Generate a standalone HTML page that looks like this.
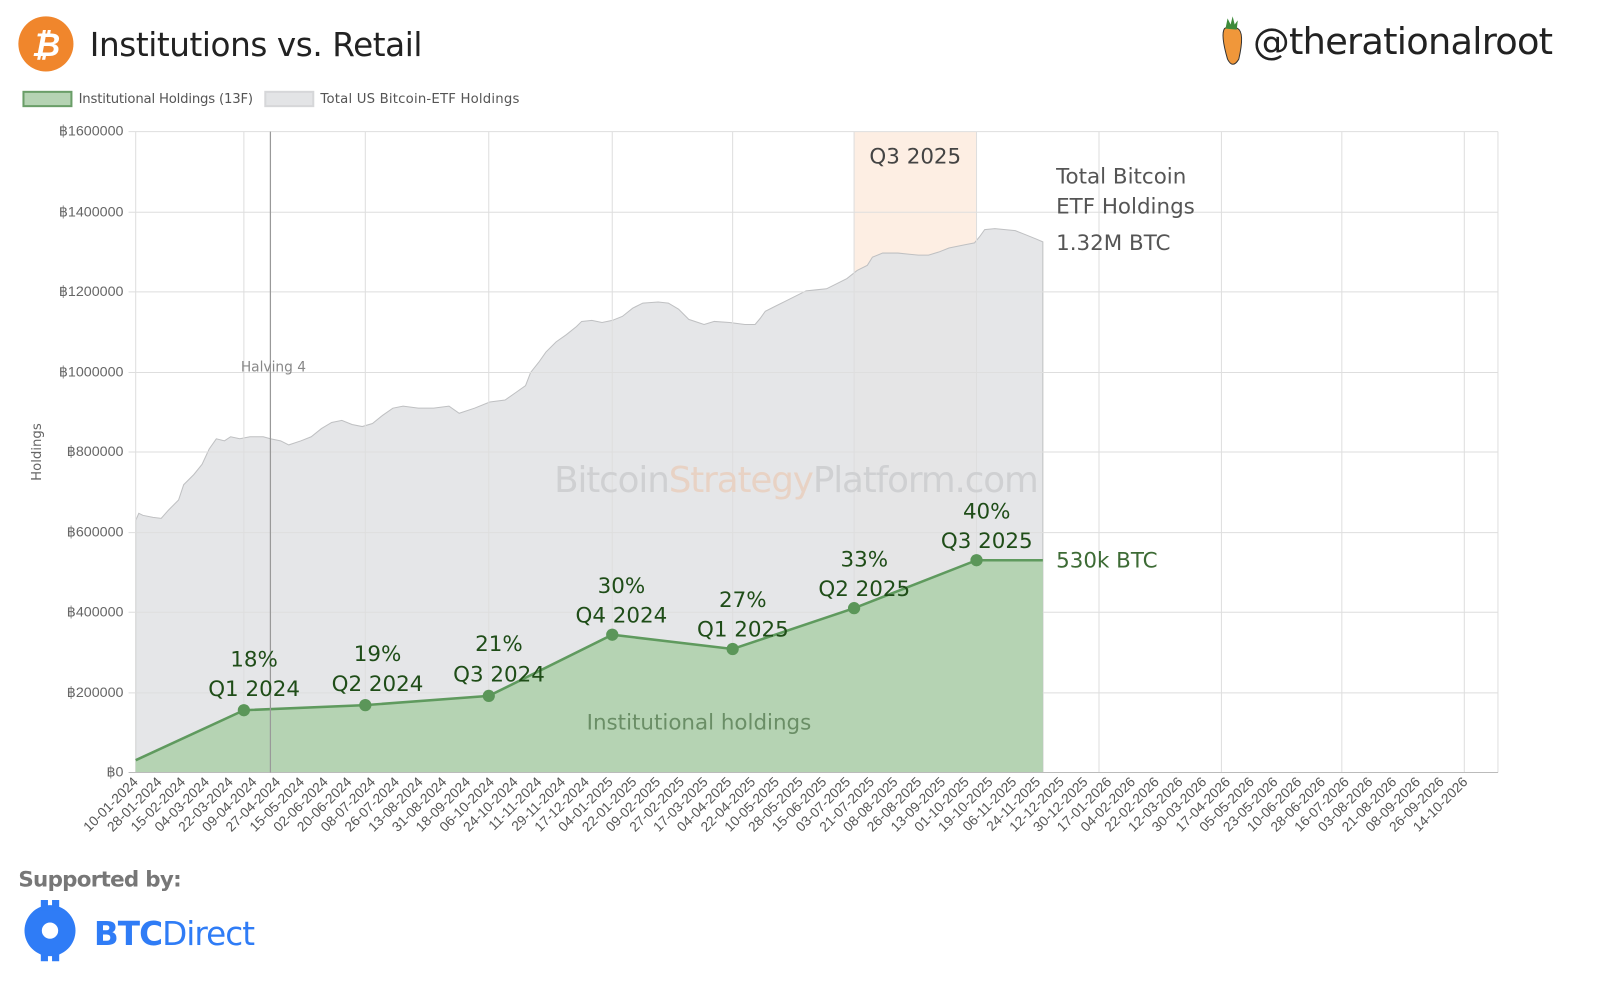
<!DOCTYPE html>
<html><head><meta charset="utf-8"><style>
html,body{margin:0;padding:0;background:#fff;}
svg{display:block;}
text{font-family:"DejaVu Sans","Liberation Sans",sans-serif;}
.yl{font-family:"Liberation Sans","DejaVu Sans",sans-serif;font-size:14px;fill:#666;text-anchor:end;}
.xl{font-family:"Liberation Sans",sans-serif;font-size:13.5px;fill:#555;text-anchor:end;}
.g{font-size:21px;fill:#1f4d18;text-anchor:middle;}
</style></head><body>
<svg width="1600" height="984" viewBox="0 0 1568 964.3" xmlns="http://www.w3.org/2000/svg">
<circle cx="45" cy="43" r="27" fill="#f0862c"/>
<text x="45" y="55" font-size="32" font-weight="bold" fill="#fff" text-anchor="middle" font-style="italic">₿</text>
<text x="88" y="55" font-size="32" fill="#222" textLength="326">Institutions vs. Retail</text>
<path d="M1200 28 Q1206 24 1213 28 Q1220 32 1214 58 Q1208 68 1203 58 Q1196 34 1200 28Z" fill="#f0973a" stroke="#333" stroke-width="1"/>
<path d="M1201 28 L1203 18 L1206 24 L1208 16 L1210 24 L1213 20 L1212 29Z" fill="#3d8a3a"/>
<text x="1228" y="53" font-size="36" fill="#222" textLength="294">@therationalroot</text>
<rect x="23" y="90" width="47" height="14" fill="#b5d3b3" stroke="#6a9e68" stroke-width="2"/>
<text x="77" y="101" font-family="Liberation Sans" font-size="13" fill="#555" textLength="171">Institutional Holdings (13F)</text>
<rect x="260" y="90" width="47" height="14" fill="#e3e4e6" stroke="#d6d7d9" stroke-width="2"/>
<text x="314" y="101" font-family="Liberation Sans" font-size="13" fill="#555" textLength="195">Total US Bitcoin-ETF Holdings</text>
<rect x="837" y="129" width="120" height="628" fill="#fdeee3"/>
<path d="M133 757 L133 510 L136 503 L140 505 L150 507 L158 508 L165 500 L175 490 L180 475 L190 465 L198 455 L205 440 L212 430 L220 432 L226 428 L235 430 L245 428 L258 428 L265 430 L275 432 L283 436 L295 432 L305 428 L315 420 L325 414 L335 412 L345 416 L355 418 L365 415 L375 407 L385 400 L395 398 L410 400 L425 400 L440 398 L450 405 L465 400 L480 394 L495 392 L505 385 L515 378 L520 365 L528 355 L535 345 L545 335 L555 328 L565 320 L570 315 L580 314 L590 316 L600 314 L610 310 L620 302 L630 297 L645 296 L655 297 L665 303 L675 313 L690 318 L700 315 L715 316 L730 318 L740 318 L745 312 L750 305 L760 300 L770 295 L780 290 L790 285 L800 284 L810 283 L820 278 L830 273 L840 265 L850 260 L855 252 L865 248 L880 248 L890 249 L900 250 L910 250 L920 247 L930 243 L945 240 L955 238 L960 232 L965 225 L975 224 L985 225 L995 226 L1005 230 L1015 234 L1022 237 L1022 757Z" fill="#e3e4e6" fill-opacity="0.93" stroke="#bfc0c2" stroke-width="1"/>
<g stroke="#dedede" stroke-width="1">
<line x1="126" y1="129" x2="1468" y2="129"/><line x1="126" y1="208" x2="1468" y2="208"/><line x1="126" y1="286" x2="1468" y2="286"/><line x1="126" y1="365" x2="1468" y2="365"/><line x1="126" y1="443" x2="1468" y2="443"/><line x1="126" y1="522" x2="1468" y2="522"/><line x1="126" y1="600" x2="1468" y2="600"/><line x1="126" y1="679" x2="1468" y2="679"/>
<line x1="133" y1="129" x2="133" y2="757"/><line x1="239" y1="129" x2="239" y2="757"/><line x1="358" y1="129" x2="358" y2="757"/><line x1="479" y1="129" x2="479" y2="757"/><line x1="600" y1="129" x2="600" y2="757"/><line x1="718" y1="129" x2="718" y2="757"/><line x1="837" y1="129" x2="837" y2="757"/><line x1="957" y1="129" x2="957" y2="757"/><line x1="1077" y1="129" x2="1077" y2="757"/><line x1="1197" y1="129" x2="1197" y2="757"/><line x1="1315" y1="129" x2="1315" y2="757"/><line x1="1435" y1="129" x2="1435" y2="757"/><line x1="1468" y1="129" x2="1468" y2="757"/>
</g>
<path d="M133 757 L133 745 L239 696 L358 691 L479 682 L600 622 L718 636 L837 596 L957 549 L1022 549 L1022 757Z" fill="#b5d3b3"/>
<path d="M133 745 L239 696 L358 691 L479 682 L600 622 L718 636 L837 596 L957 549 L1022 549" fill="none" stroke="#5f9a5e" stroke-width="2.5"/>
<g fill="#5b9659"><circle cx="239" cy="696" r="6"/><circle cx="358" cy="691" r="6"/><circle cx="479" cy="682" r="6"/><circle cx="600" cy="622" r="6"/><circle cx="718" cy="636" r="6"/><circle cx="837" cy="596" r="6"/><circle cx="957" cy="549" r="6"/></g>
<line x1="126" y1="757" x2="1468" y2="757" stroke="#bbb"/>
<line x1="265" y1="129" x2="265" y2="757" stroke="#999" stroke-width="1.2"/>
<text x="236" y="364" font-family="Liberation Sans" font-size="13.5" fill="#888">Halving 4</text>
<text class="yl" x="121" y="133">฿1600000</text><text class="yl" x="121" y="212">฿1400000</text><text class="yl" x="121" y="290">฿1200000</text><text class="yl" x="121" y="369">฿1000000</text><text class="yl" x="121" y="447">฿800000</text><text class="yl" x="121" y="526">฿600000</text><text class="yl" x="121" y="604">฿400000</text><text class="yl" x="121" y="683">฿200000</text><text class="yl" x="121" y="761">฿0</text>
<text x="40" y="443" font-family="Liberation Sans" font-size="13" fill="#666" text-anchor="middle" transform="rotate(-90 40 443)">Holdings</text>
<text x="543" y="482" font-size="35" fill="#cfd0d2" textLength="475">Bitcoin<tspan fill="#e8d2c4">Strategy</tspan>Platform.com</text>
<text x="897" y="160" font-size="21" fill="#444" text-anchor="middle">Q3 2025</text>
<text x="1035" y="180" font-size="21" fill="#555">Total Bitcoin</text>
<text x="1035" y="209" font-size="21" fill="#555">ETF Holdings</text>
<text x="1035" y="245" font-size="21" fill="#555">1.32M BTC</text>
<text x="1035" y="556" font-size="21" fill="#3d6b35">530k BTC</text>
<text x="685" y="715" font-size="21" fill="#6a8e66" text-anchor="middle">Institutional holdings</text>
<text class="g" x="249" y="653">18%</text><text class="g" x="249" y="682">Q1 2024</text>
<text class="g" x="370" y="648">19%</text><text class="g" x="370" y="677">Q2 2024</text>
<text class="g" x="489" y="638">21%</text><text class="g" x="489" y="668">Q3 2024</text>
<text class="g" x="609" y="581">30%</text><text class="g" x="609" y="610">Q4 2024</text>
<text class="g" x="728" y="595">27%</text><text class="g" x="728" y="624">Q1 2025</text>
<text class="g" x="847" y="555">33%</text><text class="g" x="847" y="584">Q2 2025</text>
<text class="g" x="967" y="508">40%</text><text class="g" x="967" y="537">Q3 2025</text>
<g>
<text class="xl" transform="translate(136,767) rotate(-45)">10-01-2024</text>
<text class="xl" transform="translate(159.3,767) rotate(-45)">28-01-2024</text>
<text class="xl" transform="translate(182.5,767) rotate(-45)">15-02-2024</text>
<text class="xl" transform="translate(205.8,767) rotate(-45)">04-03-2024</text>
<text class="xl" transform="translate(229.1,767) rotate(-45)">22-03-2024</text>
<text class="xl" transform="translate(252.4,767) rotate(-45)">09-04-2024</text>
<text class="xl" transform="translate(275.6,767) rotate(-45)">27-04-2024</text>
<text class="xl" transform="translate(298.9,767) rotate(-45)">15-05-2024</text>
<text class="xl" transform="translate(322.2,767) rotate(-45)">02-06-2024</text>
<text class="xl" transform="translate(345.4,767) rotate(-45)">20-06-2024</text>
<text class="xl" transform="translate(368.7,767) rotate(-45)">08-07-2024</text>
<text class="xl" transform="translate(392,767) rotate(-45)">26-07-2024</text>
<text class="xl" transform="translate(415.2,767) rotate(-45)">13-08-2024</text>
<text class="xl" transform="translate(438.5,767) rotate(-45)">31-08-2024</text>
<text class="xl" transform="translate(461.8,767) rotate(-45)">18-09-2024</text>
<text class="xl" transform="translate(485,767) rotate(-45)">06-10-2024</text>
<text class="xl" transform="translate(508.3,767) rotate(-45)">24-10-2024</text>
<text class="xl" transform="translate(531.6,767) rotate(-45)">11-11-2024</text>
<text class="xl" transform="translate(554.9,767) rotate(-45)">29-11-2024</text>
<text class="xl" transform="translate(578.1,767) rotate(-45)">17-12-2024</text>
<text class="xl" transform="translate(601.4,767) rotate(-45)">04-01-2025</text>
<text class="xl" transform="translate(624.7,767) rotate(-45)">22-01-2025</text>
<text class="xl" transform="translate(647.9,767) rotate(-45)">09-02-2025</text>
<text class="xl" transform="translate(671.2,767) rotate(-45)">27-02-2025</text>
<text class="xl" transform="translate(694.5,767) rotate(-45)">17-03-2025</text>
<text class="xl" transform="translate(717.7,767) rotate(-45)">04-04-2025</text>
<text class="xl" transform="translate(741,767) rotate(-45)">22-04-2025</text>
<text class="xl" transform="translate(764.3,767) rotate(-45)">10-05-2025</text>
<text class="xl" transform="translate(787.6,767) rotate(-45)">28-05-2025</text>
<text class="xl" transform="translate(810.8,767) rotate(-45)">15-06-2025</text>
<text class="xl" transform="translate(834.1,767) rotate(-45)">03-07-2025</text>
<text class="xl" transform="translate(857.4,767) rotate(-45)">21-07-2025</text>
<text class="xl" transform="translate(880.6,767) rotate(-45)">08-08-2025</text>
<text class="xl" transform="translate(903.9,767) rotate(-45)">26-08-2025</text>
<text class="xl" transform="translate(927.2,767) rotate(-45)">13-09-2025</text>
<text class="xl" transform="translate(950.4,767) rotate(-45)">01-10-2025</text>
<text class="xl" transform="translate(973.7,767) rotate(-45)">19-10-2025</text>
<text class="xl" transform="translate(997,767) rotate(-45)">06-11-2025</text>
<text class="xl" transform="translate(1020.3,767) rotate(-45)">24-11-2025</text>
<text class="xl" transform="translate(1043.5,767) rotate(-45)">12-12-2025</text>
<text class="xl" transform="translate(1066.8,767) rotate(-45)">30-12-2025</text>
<text class="xl" transform="translate(1090.1,767) rotate(-45)">17-01-2026</text>
<text class="xl" transform="translate(1113.3,767) rotate(-45)">04-02-2026</text>
<text class="xl" transform="translate(1136.6,767) rotate(-45)">22-02-2026</text>
<text class="xl" transform="translate(1159.9,767) rotate(-45)">12-03-2026</text>
<text class="xl" transform="translate(1183.1,767) rotate(-45)">30-03-2026</text>
<text class="xl" transform="translate(1206.4,767) rotate(-45)">17-04-2026</text>
<text class="xl" transform="translate(1229.7,767) rotate(-45)">05-05-2026</text>
<text class="xl" transform="translate(1253,767) rotate(-45)">23-05-2026</text>
<text class="xl" transform="translate(1276.2,767) rotate(-45)">10-06-2026</text>
<text class="xl" transform="translate(1299.5,767) rotate(-45)">28-06-2026</text>
<text class="xl" transform="translate(1322.8,767) rotate(-45)">16-07-2026</text>
<text class="xl" transform="translate(1346,767) rotate(-45)">03-08-2026</text>
<text class="xl" transform="translate(1369.3,767) rotate(-45)">21-08-2026</text>
<text class="xl" transform="translate(1392.6,767) rotate(-45)">08-09-2026</text>
<text class="xl" transform="translate(1415.8,767) rotate(-45)">26-09-2026</text>
<text class="xl" transform="translate(1439.1,767) rotate(-45)">14-10-2026</text>
</g>
<text x="18" y="869" font-size="21" font-weight="bold" fill="#777" textLength="160">Supported by:</text>
<circle cx="49" cy="912" r="25" fill="#2f7cf6"/>
<rect x="40" y="882" width="7" height="10" fill="#2f7cf6"/><rect x="51" y="882" width="7" height="10" fill="#2f7cf6"/>
<rect x="40" y="932" width="7" height="10" fill="#2f7cf6"/><rect x="51" y="932" width="7" height="10" fill="#2f7cf6"/>
<circle cx="49" cy="912" r="8" fill="#fff"/>
<text x="92" y="926" font-family="Liberation Sans" font-size="32" font-weight="bold" fill="#2f7cf6" textLength="158">BTC<tspan font-weight="normal">Direct</tspan></text>
</svg>
</body></html>
